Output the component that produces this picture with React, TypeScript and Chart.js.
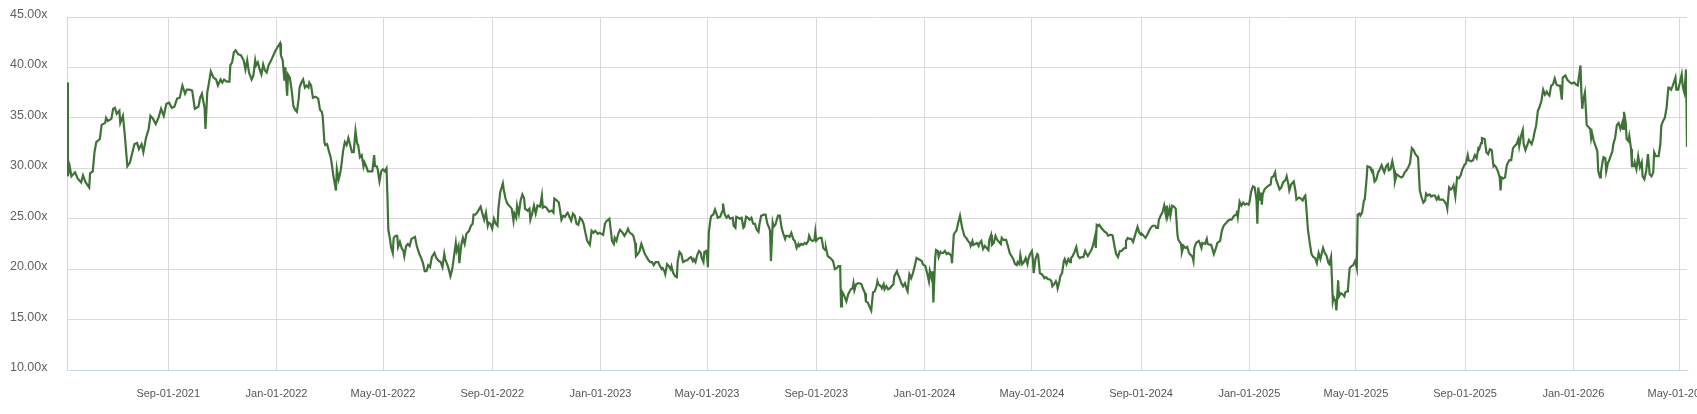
import React, { useEffect, useRef } from "react";
import { Chart, registerables } from "chart.js";

Chart.register(...registerables);

// Start of the 5-year window; every entry of `days` is a day offset from it.
const START_DATE = "2021-05-10";

const days = [
  0, 1, 3, 5, 9, 12, 16, 18, 21, 25, 26, 29, 31, 33, 37, 39, 43, 44, 46, 50, 52, 54, 56, 59, 60, 63, 65, 68, 71, 74, 76, 79, 81, 84, 86, 89, 92, 94, 97, 100,
  103, 106, 109, 112, 115, 118, 121, 124, 127, 130, 133, 135, 138, 141, 144, 148, 150, 152, 153, 155, 156, 158, 160, 162, 165, 168, 170, 173, 175, 177, 180, 183, 184, 186, 188, 190, 193,
  196, 199, 201, 203, 205, 208, 210, 212, 213, 215, 217, 219, 221, 223, 225, 227, 230, 234, 237, 240, 241, 243, 245, 246, 248, 249, 251, 253, 255, 257, 259, 261, 262, 264, 266, 268, 270,
  272, 273, 275, 277, 280, 283, 285, 287, 288, 289, 290, 291, 293, 295, 297, 298, 300, 302, 303, 304, 306, 308, 309, 311, 313, 315, 317, 319, 321, 323, 325, 327, 328, 330, 332, 334, 335,
  337, 339, 342, 344, 346, 347, 349, 350, 352, 354, 356, 358, 360, 361, 362, 364, 365, 367, 368, 370, 372, 373, 375, 377, 379, 380, 382, 384, 386, 388, 390, 392, 394, 397, 399, 401, 403,
  405, 407, 409, 411, 414, 416, 419, 421, 423, 425, 426, 429, 430, 432, 434, 436, 438, 439, 441, 442, 444, 446, 448, 450, 453, 455, 457, 458, 460, 462, 464, 466, 468, 470, 472, 474, 475,
  477, 479, 481, 483, 485, 486, 488, 491, 492, 494, 496, 499, 501, 503, 504, 506, 507, 509, 511, 513, 515, 516, 519, 521, 522, 524, 526, 528, 530, 533, 535, 536, 538, 540, 543, 546, 548,
  549, 552, 554, 555, 557, 559, 561, 563, 564, 566, 568, 570, 572, 574, 576, 578, 580, 582, 584, 586, 589, 591, 593, 595, 596, 598, 600, 602, 604, 606, 608, 610, 611,
  613, 614, 616, 617, 619, 621, 623, 626, 628, 630, 632, 634, 636, 638, 640, 641, 643, 645, 647, 649, 651, 653, 655, 657, 659, 661, 663, 666, 668, 670, 671, 673, 674, 676, 678, 680, 681,
  683, 685, 687, 688, 690, 692, 694, 696, 699, 701, 703, 705, 706, 708, 710, 712, 714, 715, 717, 718, 720, 721, 722, 723, 725, 726, 728, 730, 732, 733, 736, 738, 739, 741, 743, 745, 747,
  750, 751, 753, 754, 756, 758, 760, 762, 763, 765, 767, 769, 771, 773, 775, 777, 779, 780, 782, 785, 787, 789, 791, 792, 793, 795, 796, 798, 801, 803, 805, 807, 809, 810, 812, 814, 816, 818,
  820, 822, 824, 825, 827, 829, 831, 833, 835, 836, 838, 840, 842, 843, 844, 846, 848, 850, 852, 854, 855, 857, 860, 863, 865, 867, 869, 871, 872, 873, 875, 878, 880, 883, 885, 886, 887,
  889, 891, 893, 895, 897, 899, 900, 902, 904, 906, 908, 910, 912, 913, 914, 917, 918, 920, 921, 923, 925, 927, 929, 931, 932, 935, 936, 938, 940, 942, 944, 946, 947, 949, 951, 953, 955,
  957, 959, 963, 964, 967, 969, 971, 972, 974, 975, 976, 978, 979, 981, 982, 984, 985, 987, 989, 991, 993, 994, 996, 997, 999, 1000, 1002, 1004, 1006, 1008, 1009, 1011, 1013, 1015, 1017,
  1018, 1020, 1021, 1023, 1025, 1027,
  1028, 1030, 1032, 1034, 1036, 1038, 1039, 1041, 1042, 1044, 1046, 1048, 1050, 1052, 1053, 1055, 1058, 1060, 1062, 1064, 1066, 1068, 1070, 1071, 1073, 1074, 1076, 1078, 1080, 1082, 1083,
  1085, 1087, 1088, 1089, 1091, 1093, 1094, 1096, 1098, 1100, 1101, 1103, 1105, 1107, 1109, 1110, 1112, 1114, 1115, 1116, 1118, 1119, 1121, 1123, 1124, 1126, 1128, 1130, 1131, 1133, 1135,
  1137, 1139, 1141, 1143, 1145, 1147, 1148, 1150, 1152, 1154, 1156, 1158, 1159, 1160, 1162, 1163, 1165, 1167, 1169, 1171, 1173, 1175, 1177, 1178, 1180, 1182, 1184, 1186, 1188, 1190, 1192,
  1193, 1195, 1197, 1199, 1201, 1203, 1205, 1206, 1208, 1210, 1211, 1213, 1215, 1217, 1219, 1221, 1223, 1226, 1227, 1229, 1230, 1232, 1234, 1236,
  1238, 1239, 1240, 1242, 1243, 1245, 1247, 1249, 1251, 1252, 1255, 1256, 1258, 1260, 1262, 1264, 1266, 1268, 1269, 1270, 1272, 1275, 1276, 1278, 1279, 1282, 1284, 1285, 1288, 1289, 1291,
  1292, 1294, 1296, 1299, 1301, 1303, 1306, 1308, 1310, 1312, 1314, 1315, 1317, 1318, 1319, 1321, 1323, 1325, 1327, 1329, 1331, 1332, 1334, 1336, 1338, 1340, 1341, 1342, 1344, 1345, 1346,
  1347, 1349, 1351, 1354, 1356, 1357, 1359, 1361, 1362, 1364, 1366, 1368, 1370, 1373, 1374, 1376, 1377, 1379, 1382, 1384, 1385, 1388, 1390, 1392, 1394, 1395, 1396, 1398, 1400, 1402, 1404,
  1406, 1408, 1410, 1412, 1415, 1417, 1419, 1421, 1422, 1424, 1426, 1427, 1429, 1430, 1432, 1433, 1435, 1437, 1439, 1440, 1442, 1443,
  1445, 1447, 1449, 1451, 1452, 1453, 1454, 1456, 1457, 1459, 1461, 1462, 1464, 1465, 1468, 1469, 1471, 1473, 1475, 1477, 1479, 1481, 1483, 1484, 1486, 1488, 1489, 1491, 1493, 1495, 1496,
  1498, 1501, 1503, 1505, 1507, 1509, 1511, 1513, 1515, 1517, 1519, 1522, 1524, 1526, 1528, 1530, 1531, 1533, 1535, 1537, 1539, 1541, 1543, 1545, 1546, 1548, 1550, 1552, 1554, 1555, 1557,
  1559, 1561, 1562, 1564, 1566, 1568, 1570, 1572, 1574, 1576, 1578, 1579, 1582, 1584, 1586, 1588, 1590, 1591, 1593, 1594, 1597, 1599, 1601, 1603, 1605, 1607, 1608, 1610, 1612, 1614, 1615,
  1616, 1618, 1620, 1622, 1623, 1625, 1627, 1629, 1631, 1633, 1635, 1636, 1638, 1640, 1641, 1643, 1645, 1647,
  1650, 1652, 1653, 1655, 1657, 1659, 1661, 1663, 1665, 1667, 1668, 1670, 1672, 1674, 1676, 1678, 1680, 1682, 1683, 1684, 1685, 1688, 1690, 1692, 1695, 1698, 1700, 1702, 1703, 1705, 1706,
  1707, 1708, 1710, 1711, 1712, 1715, 1716, 1717, 1718, 1720, 1722, 1724, 1725, 1727, 1728, 1730, 1731, 1733, 1734, 1736, 1737, 1739, 1741, 1742, 1744, 1746, 1748, 1750, 1752, 1753, 1754,
  1756, 1757, 1759, 1760, 1762, 1763, 1765, 1766, 1768, 1770, 1772, 1774, 1775, 1777, 1779, 1781, 1783, 1785, 1787, 1788, 1790, 1792, 1793, 1795, 1796, 1798, 1800, 1802, 1804, 1805, 1807,
  1809, 1812, 1813, 1815, 1817, 1819, 1820, 1821, 1822, 1824, 1825,
];

// P/E-style multiple (x) for each entry of `days`.
const ratios = [
  38.5, 29.2, 30.2, 29.2, 29.6, 29.0, 28.6, 29.3, 28.6, 28.1, 29.5, 29.7, 31.6, 32.6, 32.9, 34.3, 34.5, 35.0, 34.7, 34.9, 35.9, 36.0, 35.4, 35.7, 34.5, 35.2, 33.4, 30.2, 30.6, 31.7, 32.4, 32.5, 31.9, 32.4, 31.6, 33.0, 33.9, 35.2, 34.9, 34.4,
  35.0, 35.9, 35.2, 36.4, 36.5, 36.0, 36.1, 36.9, 37.0, 38.2, 37.4, 37.8, 37.8, 37.7, 35.9, 36.1, 37.0, 37.4, 36.9, 36.0, 33.9, 37.5, 38.5, 39.6, 39.0, 38.8, 38.2, 38.8, 38.5, 38.8, 38.6, 38.6, 40.2, 40.5, 41.5, 41.7, 41.3,
  41.2, 40.7, 39.8, 40.7, 39.5, 38.8, 39.2, 40.7, 40.2, 40.5, 39.8, 39.3, 40.3, 39.7, 39.5, 40.2, 40.7, 41.5, 42.0, 42.4, 41.2, 40.7, 38.7, 40.0, 37.2, 39.3, 39.0, 37.8, 36.2, 35.8, 35.6, 36.9, 38.0, 38.5, 38.8, 38.0, 38.2,
  38.0, 38.5, 38.2, 37.0, 37.1, 36.9, 35.8, 35.6, 35.2, 33.9, 32.6, 32.3, 32.4, 31.7, 31.1, 30.6, 29.3, 28.3, 27.8, 29.9, 28.9, 29.6, 30.2, 31.7, 32.6, 32.3, 33.0, 32.3, 31.6, 31.6, 33.7, 32.4, 32.3, 31.1, 31.3, 30.2, 30.6,
  30.2, 29.7, 29.7, 29.7, 31.3, 30.2, 30.2, 29.9, 28.7, 29.7, 29.9, 29.7, 30.0, 27.2, 23.9, 22.9, 22.2, 21.6, 23.1, 23.3, 23.3, 22.2, 22.7, 22.1, 21.8, 21.3, 22.3, 22.5, 22.3, 23.0, 23.1, 23.2, 22.3, 21.5, 21.1, 20.6, 19.8,
  19.8, 20.4, 20.2, 21.2, 21.6, 21.1, 20.8, 20.7, 20.2, 21.5, 21.0, 20.3, 20.0, 19.3, 20.0, 21.3, 22.6, 21.8, 22.3, 20.6, 22.3, 23.1, 22.5, 23.5, 23.8, 24.3, 24.5, 25.4, 25.4, 25.6, 25.9, 26.2, 25.5, 24.9, 25.6, 24.3, 24.6,
  24.5, 24.0, 25.0, 24.5, 24.3, 26.0, 27.6, 28.5, 27.9, 27.0, 26.5, 26.2, 26.0, 24.8, 25.5, 25.1, 26.3, 25.5, 26.8, 27.4, 27.0, 26.0, 25.8, 26.0, 24.9, 25.5, 26.3, 25.5, 26.3, 26.2, 27.3, 26.1, 26.2, 26.1, 25.7, 25.8, 25.6,
  27.0, 26.8, 26.6, 26.1, 24.9, 25.3, 25.2, 25.5, 25.6, 25.2, 24.8, 25.5, 25.3, 24.5, 24.4, 25.1, 24.9, 24.5, 23.6, 22.8, 22.4, 23.8, 23.6, 23.8, 23.7, 23.5, 23.6, 23.5, 23.4, 24.5, 24.8, 24.9, 25.0,
  23.6, 22.8, 22.5, 23.1, 22.8, 23.5, 23.9, 23.6, 23.3, 23.6, 24.0, 23.6, 23.5, 23.3, 22.6, 21.3, 21.5, 21.8, 22.5, 22.0, 21.5, 21.2, 20.9, 20.7, 20.7, 20.4, 20.7, 20.7, 20.3, 20.0, 20.1, 19.8, 19.5, 20.5, 20.3, 20.0, 20.3,
  19.6, 19.3, 19.2, 20.8, 21.7, 21.5, 20.7, 20.8, 20.9, 21.1, 21.2, 20.8, 21.0, 20.7, 21.4, 21.8, 21.6, 21.1, 20.7, 21.7, 21.8, 21.3, 20.2, 23.6, 25.0, 25.3, 25.4, 25.9, 25.4, 25.1, 25.2, 25.7, 26.5, 25.4, 25.1, 25.3, 25.0,
  25.1, 24.3, 24.1, 25.2, 25.1, 25.0, 25.1, 24.1, 24.2, 25.2, 25.1, 24.9, 25.1, 24.5, 24.5, 23.9, 23.7, 24.4, 25.3, 25.4, 25.4, 24.5, 24.1, 23.8, 20.8, 24.6, 24.2, 24.4, 25.3, 25.3, 24.1, 23.5, 23.0, 23.3, 23.3, 23.2, 23.6, 23.0,
  22.8, 22.1, 22.5, 22.3, 22.5, 22.4, 22.6, 22.5, 22.8, 23.3, 22.9, 22.8, 22.9, 23.7, 22.8, 23.0, 23.1, 23.1, 22.1, 21.9, 22.1, 21.3, 21.1, 20.8, 20.0, 20.1, 20.3, 20.3, 16.3, 17.8, 17.5, 16.8, 17.5, 18.0, 18.1, 18.6, 17.9,
  18.5, 18.6, 18.6, 18.5, 18.0, 17.6, 16.8, 16.7, 16.3, 15.9, 17.7, 17.8, 18.3, 18.8, 18.5, 18.3, 18.1, 18.5, 18.0, 18.3, 18.0, 18.1, 18.3, 18.5, 19.3, 19.8, 19.5, 19.1, 18.6, 18.3, 18.6, 18.0, 17.8, 19.5, 19.1, 19.6, 20.3,
  21.1, 21.0, 20.8, 20.5, 20.3, 19.6, 18.8, 19.8, 19.1, 19.8, 16.7, 21.0, 21.9, 21.8, 21.2, 21.7, 21.6, 21.6, 21.8, 21.5, 21.6, 21.5, 21.4, 20.6, 23.4, 23.6, 23.8, 24.6, 25.3, 24.3, 23.9, 23.3, 23.1, 22.8, 22.6,
  22.3, 22.8, 22.4, 22.5, 22.6, 22.3,
  22.6, 22.8, 22.0, 22.3, 22.1, 21.9, 22.9, 23.4, 22.4, 22.6, 23.3, 22.9, 22.7, 22.5, 23.1, 22.9, 22.9, 22.3, 21.6, 21.3, 21.0, 20.5, 20.4, 20.7, 20.5, 21.4, 20.5, 20.7, 21.1, 20.5, 21.0,
  21.5, 21.8, 21.1, 19.6, 21.0, 21.5, 21.4, 19.6, 19.5, 19.3, 19.1, 19.2, 19.0, 19.0, 18.8, 18.3, 18.5, 18.8, 18.6, 18.1, 18.8, 19.3, 19.6, 20.8, 21.0, 20.5, 21.0, 20.7, 21.1, 21.3, 21.7,
  22.2, 21.3, 21.1, 21.2, 21.2, 21.8, 21.6, 21.3, 21.6, 21.9, 22.4, 23.2, 22.1, 24.4, 24.3, 24.4, 24.1, 23.9, 23.7, 23.6, 23.3, 23.4, 23.4, 23.3, 22.3, 21.5, 21.2, 21.8, 21.8, 22.0, 22.1,
  22.8, 23.1, 23.0, 23.0, 22.7, 23.3, 23.9, 24.2, 23.6, 23.4, 23.5, 23.3, 23.1, 23.4, 23.8, 24.1, 24.3, 24.3, 24.1, 24.1, 24.9, 25.3, 25.6, 26.3,
  25.3, 26.3, 25.3, 26.0, 25.3, 26.3, 26.2, 26.0, 23.4, 22.9, 22.5, 21.7, 22.3, 22.1, 22.2, 21.6, 21.4, 21.2, 20.8, 22.1, 22.6, 22.8, 22.6, 22.1, 22.6, 22.5, 23.0, 22.5, 22.4, 22.4, 21.8,
  21.5, 22.0, 22.6, 22.8, 23.8, 24.3, 24.6, 24.8, 24.9, 24.9, 25.2, 25.3, 25.4, 25.8, 25.2, 26.7, 26.3, 26.6, 26.4, 26.5, 26.4, 26.6, 27.7, 28.2, 28.1, 26.9, 24.5, 28.1, 26.9, 27.6, 26.4,
  27.4, 27.9, 28.1, 28.3, 28.4, 29.1, 29.2, 29.6, 28.9, 28.4, 27.9, 28.1, 28.6, 28.9, 29.2, 28.4, 27.8, 28.4, 28.7, 27.7, 26.9, 27.1, 27.0, 26.8, 27.2, 27.3, 26.3, 23.9, 22.6, 21.5, 21.2,
  21.1, 20.6, 21.6, 21.0, 22.1, 21.6, 21.3, 20.6, 20.5, 21.2, 16.8, 17.2, 16.8, 15.9, 18.9, 17.3, 17.6, 17.5, 17.3, 17.7, 17.8, 18.0,
  20.1, 20.3, 20.4, 20.8, 20.5, 20.1, 25.4, 25.5, 25.3, 25.6, 26.8, 26.9, 28.9, 30.2, 30.1, 29.9, 29.8, 28.7, 28.9, 29.6, 29.9, 30.3, 29.8, 29.6, 30.2, 30.4, 29.8, 29.9, 30.7, 29.8, 28.7,
  29.4, 29.2, 29.1, 29.2, 29.6, 29.8, 30.1, 30.5, 32.0, 31.8, 31.4, 31.1, 27.8, 27.1, 26.6, 26.8, 27.5, 27.3, 27.4, 27.2, 27.3, 27.3, 26.9, 27.2, 26.9, 26.9, 26.9, 26.7, 26.4, 26.0, 28.1,
  27.9, 28.1, 28.3, 27.2, 29.1, 29.0, 29.3, 29.9, 30.3, 30.5, 31.3, 30.8, 30.7, 30.8, 31.3, 31.0, 32.0, 31.9, 32.5, 33.0, 32.9, 31.6, 31.4, 31.9, 31.8, 30.2, 30.3, 30.1, 29.7, 29.1, 27.8,
  29.1, 29.0, 29.1, 30.3, 30.5, 30.8, 30.8, 32.0, 32.2, 32.4, 32.9, 32.2, 33.2, 33.8, 32.4, 31.8, 32.3, 32.8,
  32.4, 33.0, 33.5, 34.2, 35.7, 36.1, 36.7, 37.8, 37.3, 37.6, 37.4, 37.2, 38.2, 38.3, 38.9, 38.3, 38.2, 38.2, 38.2, 36.8, 39.0, 39.2, 38.8, 38.6, 38.4, 38.5, 38.3, 38.2, 38.9, 40.2, 37.5,
  35.9, 36.7, 37.5, 35.9, 34.3, 34.0, 33.9, 33.0, 33.5, 32.7, 32.2, 31.7, 29.7, 29.1, 29.6, 30.7, 31.1, 31.0, 29.7, 30.6, 30.7, 31.2, 31.7, 32.4, 33.0, 34.3, 34.5, 33.9, 34.5, 33.9, 35.6,
  34.5, 32.9, 32.7, 33.2, 31.9, 30.2, 30.2, 30.6, 29.9, 31.2, 30.1, 30.6, 29.2, 28.9, 29.7, 31.4, 29.4, 29.2, 29.6, 31.6, 31.2, 31.2, 31.2, 32.4, 34.2, 34.7, 35.0, 36.0, 38.0, 38.0, 37.8,
  38.2, 39.0, 37.8, 37.8, 38.5, 39.3, 38.3, 37.8, 37.5, 39.8, 32.1,
];

const tickDates = [
  "2021-09-01", "2022-01-01", "2022-05-01", "2022-09-01", "2023-01-01", "2023-05-01", "2023-09-01", "2024-01-01",
  "2024-05-01", "2024-09-01", "2025-01-01", "2025-05-01", "2025-09-01", "2026-01-01", "2026-05-01",
];

const yTickValues = [10, 15, 20, 25, 30, 35, 40, 45];

const MONTHS = ["Jan", "Feb", "Mar", "Apr", "May", "Jun", "Jul", "Aug", "Sep", "Oct", "Nov", "Dec"];
const DAY_MS = 86400000;
const startMs = Date.parse(START_DATE + "T00:00:00Z");
const toOffset = (iso: string) => Math.round((Date.parse(iso + "T00:00:00Z") - startMs) / DAY_MS);
const fmtDate = (iso: string) => {
  const [y, m, d] = iso.split("-");
  return `${MONTHS[Number(m) - 1]}-${d}-${y}`;
};

const tickOffsets = tickDates.map(toOffset);
const tickLabelMap = new Map<number, string>(tickDates.map((d) => [toOffset(d), fmtDate(d)]));

export default function App() {
  const canvasRef = useRef<HTMLCanvasElement | null>(null);

  useEffect(() => {
    const canvas = canvasRef.current;
    if (!canvas) return;
    const points = days.map((d, i) => ({ x: d, y: ratios[i] }));
    const chart = new Chart(canvas, {
      type: "line",
      data: {
        datasets: [
          {
            data: points,
            borderColor: "#3f7237",
            borderWidth: 2.2,
            pointRadius: 0,
            pointHoverRadius: 0,
            fill: false,
            tension: 0,
          },
        ],
      },
      options: {
        animation: false,
        responsive: true,
        maintainAspectRatio: false,
        layout: { padding: { top: 17, right: 10, left: 0, bottom: 0 } },
        plugins: { legend: { display: false }, tooltip: { enabled: false } },
        events: [],
        scales: {
          x: {
            type: "linear",
            min: 0,
            max: days[days.length - 1],
            afterBuildTicks: (s: any) => {
              s.ticks = tickOffsets.map((v) => ({ value: v }));
            },
            afterFit: (s: any) => {
              s.height = 44;
              s.paddingLeft = 0;
              s.paddingRight = 0;
            },
            grid: { color: "#d9d9d9", drawTicks: false, lineWidth: 1 },
            border: { color: "#ccd6eb", width: 1 },
            ticks: {
              autoSkip: false,
              maxRotation: 0,
              minRotation: 0,
              padding: 17,
              color: "#555555",
              font: { family: '"Liberation Sans", Arial, sans-serif', size: 11 },
              callback: (v: any) => tickLabelMap.get(Number(v)) ?? "",
            },
          },
          y: {
            min: 10,
            max: 45,
            afterBuildTicks: (s: any) => {
              s.ticks = yTickValues.map((v) => ({ value: v }));
            },
            afterFit: (s: any) => {
              s.width = 67;
              s.paddingTop = 0;
              s.paddingBottom = 0;
            },
            grid: { color: "#d9d9d9", drawTicks: false, lineWidth: 1 },
            border: { color: "#ccd6eb", width: 1 },
            ticks: {
              padding: 19.5,
              labelOffset: -2.5,
              color: "#606060",
              font: { family: '"Liberation Sans", Arial, sans-serif', size: 12.5 },
              callback: (v: any) => Number(v).toFixed(2) + "x",
            },
          },
        },
      },
    });
    return () => chart.destroy();
  }, []);

  return (
    <div style={{ position: "absolute", left: 0, top: 0, width: 1697, height: 414, background: "#ffffff" }}>
      <canvas ref={canvasRef} />
    </div>
  );
}
